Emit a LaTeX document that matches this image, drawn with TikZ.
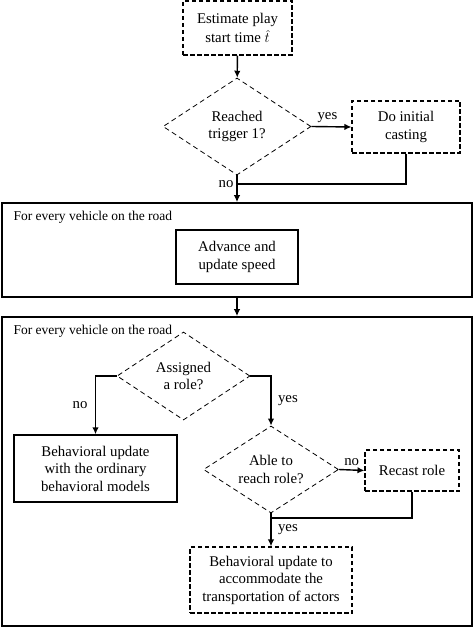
\documentclass[tikz,border=0pt]{standalone}
\usepackage{fontspec}
\setmainfont{Liberation Serif}
\usetikzlibrary{shapes.geometric,arrows.meta}

\begin{document}
\begin{tikzpicture}[x=1pt,y=-1pt,
		every node/.style={font=\fontsize{14.8}{17.5}\selectfont, align=center},
		dbox/.style={draw, dash pattern=on 4.5pt off 2.5pt, line width=1.1pt, inner sep=0pt},
		sbox/.style={draw, line width=1.4pt, inner sep=0pt},
		dtest/.style={diamond, draw, dash pattern=on 5pt off 3.5pt, line width=0.8pt, inner sep=0pt, aspect=1.5},
		loopbox/.style={draw, line width=1.6pt, inner sep=0pt},
		looptext/.style={anchor=west, font=\fontsize{13.5}{16}\selectfont},
		flow/.style={line width=1.4pt, -{Latex[length=7pt,width=6.5pt]}},
		link/.style={line width=1.4pt}]
		\useasboundingbox (0,0) rectangle (474,628);
		% Loops over the vehicles
		\node [loopbox, minimum width=470, minimum height=94] (loopA) at (237,250) {};
		\node [looptext] (loopAtext) at (10,217) {For every vehicle on the road};
		\node [loopbox, minimum width=470, minimum height=309] (loopB) at (237,471.5) {};
		\node [looptext] (loopBtext) at (10,331) {For every vehicle on the road};
		% Start of the play
		\node [dbox, minimum width=109, minimum height=54] (est) at (237.5,28) {Estimate play\\[2pt]start time $\hat{t}$};
		\node [dtest, minimum width=148, minimum height=97] (trig) at (237,126.5) {Reached\\trigger 1?};
		\node [dbox, minimum width=108, minimum height=52] (cast) at (406,127) {Do initial\\casting};
		\coordinate (joinA) at (237,184);
		% First loop
		\node [sbox, minimum width=122, minimum height=54] (adv) at (237,257) {Advance and\\update speed};
		% Second loop
		\node [dtest, minimum width=133, minimum height=88] (role) at (183.5,376) {Assigned\\a role?};
		\node [sbox, minimum width=163, minimum height=67] (ord) at (95.5,468.5) {Behavioral update\\with the ordinary\\behavioral models};
		\node [dtest, minimum width=135, minimum height=87] (reach) at (271,469.5) {Able to\\reach role?};
		\node [dbox, minimum width=94, minimum height=41] (recast) at (412,470.5) {Recast role};
		\node [dbox, minimum width=162, minimum height=66] (trans) at (271,580) {Behavioral update to\\accommodate the\\transportation of actors};
		\coordinate (joinB) at (271,518);
		% Connectors
		\draw [flow] (est) -- (trig);
		\draw [flow] (trig.east) -- node [pos=0.4, above] {yes} (cast.west);
		\draw [link] (cast.south) |- (joinA);
		\draw [flow] (trig.south) -- (loopA.north);
		\node [left] (noA) at (joinA) {no};
		\draw [flow] (loopA.south) -- (loopB.north);
		\draw [flow] (role.west) -| node [pos=0.75, left=4pt] {no} (ord.north);
		\draw [flow] (role.east) -| node [pos=0.75, right=3pt] {yes} (reach.north);
		\draw [flow] (reach.east) -- node [above] {no} (recast.west);
		\draw [link] (recast.south) |- (joinB);
		\draw [flow] (reach.south) -- node [right=3pt] {yes} (trans.north);
	\end{tikzpicture}
\end{document}
